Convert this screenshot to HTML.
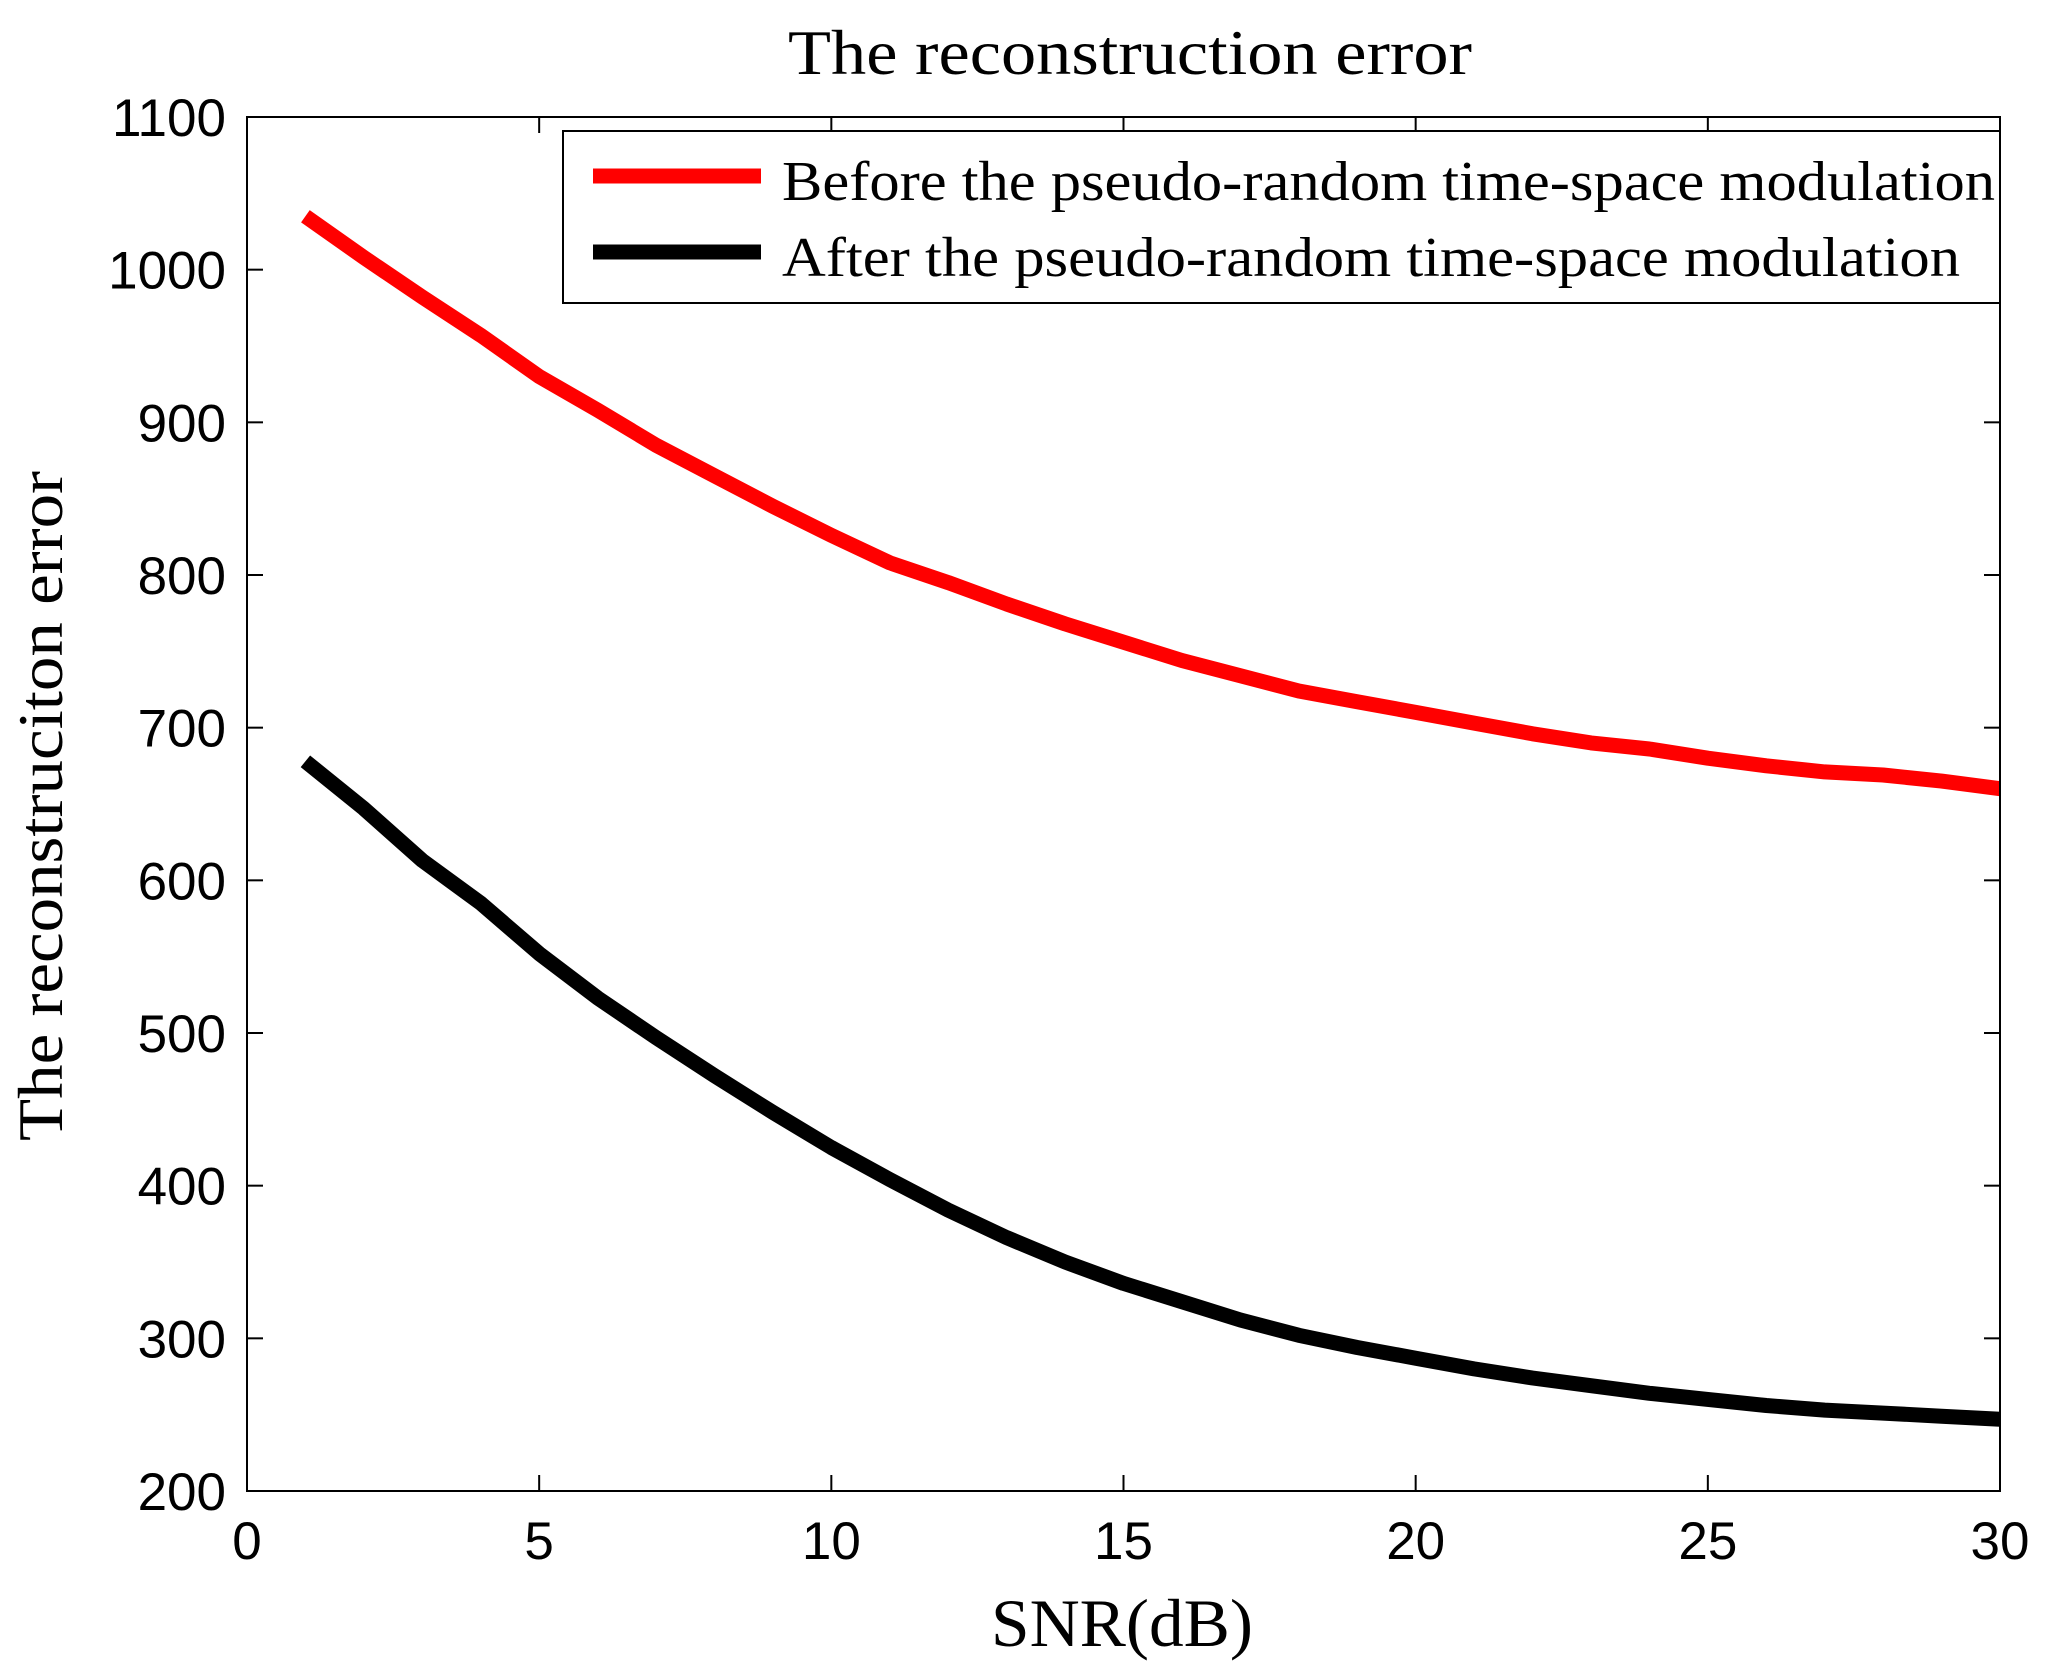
<!DOCTYPE html>
<html><head><meta charset="utf-8"><style>
html,body{margin:0;padding:0;background:#fff;}
svg{display:block;}
</style></head><body>
<svg id="chart" width="2047" height="1665" viewBox="0 0 2047 1665" xmlns="http://www.w3.org/2000/svg">
<rect x="0" y="0" width="2047" height="1665" fill="#fff"/>
<text x="1130" y="74" text-anchor="middle" font-family="Liberation Serif, serif" font-size="64" textLength="684" lengthAdjust="spacingAndGlyphs">The reconstruction error</text>
<text x="1122" y="1646" text-anchor="middle" font-family="Liberation Serif, serif" font-size="68" textLength="262" lengthAdjust="spacingAndGlyphs">SNR(dB)</text>
<text transform="translate(62,806) rotate(-90)" text-anchor="middle" font-family="Liberation Serif, serif" font-size="64" textLength="670" lengthAdjust="spacingAndGlyphs">The reconstruciton error</text>
<g id="ticks"></g>
<g id="series"></g>
<rect x="247" y="117" width="1753" height="1374" fill="none" stroke="#000" stroke-width="2"/>
<g>
<rect x="563" y="131" width="1437" height="172" fill="#fff" stroke="#000" stroke-width="2"/>
<line x1="593" y1="176" x2="761" y2="176" stroke="#ff0000" stroke-width="15"/>
<text x="782" y="200" font-family="Liberation Serif, serif" font-size="56" textLength="1213" lengthAdjust="spacingAndGlyphs">Before the pseudo-random time-space modulation</text>
<line x1="593" y1="252" x2="761" y2="252" stroke="#000" stroke-width="15"/>
<text x="782" y="276" font-family="Liberation Serif, serif" font-size="56" textLength="1178" lengthAdjust="spacingAndGlyphs">After the pseudo-random time-space modulation</text>
</g>
</svg>
<script>
const snr = [1,2,3,4,5,6,7,8,9,10,11,12,13,14,15,16,17,18,19,20,21,22,23,24,25,26,27,28,29,30];
const beforeValues = [1035,1008,982,957,930,908,885,865,845,826,808,795,781,768,756,744,734,724,717,710,703,696,690,686,680,675,671,669,665,660];
const afterValues = [678,647,613,585,552,523,497,472,448,425,404,384,366,350,336,324,312,302,294,287,280,274,269,264,260,256,253,251,249,247];
const xTicks = [0,5,10,15,20,25,30];
const yTicks = [200,300,400,500,600,700,800,900,1000,1100];

const L=247,R=2000,T=117,B=1491;
const xMin=0,xMax=30,yMin=200,yMax=1100;
function xs(v){return L+(v-xMin)/(xMax-xMin)*(R-L);}
function ys(v){return B-(v-yMin)/(yMax-yMin)*(B-T);}
const NS='http://www.w3.org/2000/svg';
const tg=document.getElementById('ticks');
function mk(tag,attrs,parent){const e=document.createElementNS(NS,tag);for(const k in attrs)e.setAttribute(k,attrs[k]);parent.appendChild(e);return e;}
xTicks.forEach(v=>{
  const x=xs(v);
  const t1=mk('line',{x1:x,y1:B,x2:x,y2:B-16,stroke:'#000','stroke-width':2},tg);
  
  
  const t2=mk('line',{x1:x,y1:T,x2:x,y2:T+16,stroke:'#000','stroke-width':2},tg);
  
  
  const lb=mk('text',{x:x,y:1559,'text-anchor':'middle','font-family':'Liberation Sans, sans-serif','font-size':53},tg);
  lb.textContent=v;
  
  
});
yTicks.forEach(v=>{
  const y=ys(v);
  const t1=mk('line',{x1:L,y1:y,x2:L+16,y2:y,stroke:'#000','stroke-width':2},tg);
  
  
  const t2=mk('line',{x1:R,y1:y,x2:R-16,y2:y,stroke:'#000','stroke-width':2},tg);
  
  
  const lb=mk('text',{x:226,y:y+19,'text-anchor':'end','font-family':'Liberation Sans, sans-serif','font-size':53},tg);
  lb.textContent=v;
  
  
});
const sg=document.getElementById('series');
function line(vals,color,name){
  const d=snr.map((s,i)=>(i?'L':'M')+xs(s).toFixed(1)+','+ys(vals[i]).toFixed(1)).join(' ');
  const p=mk('path',{d:d,fill:'none',stroke:color,'stroke-width':15,'stroke-linejoin':'round'},sg);
  
  
}
line(beforeValues,'#ff0000','before-modulation-line');
line(afterValues,'#000000','after-modulation-line');
</script>
</body></html>
